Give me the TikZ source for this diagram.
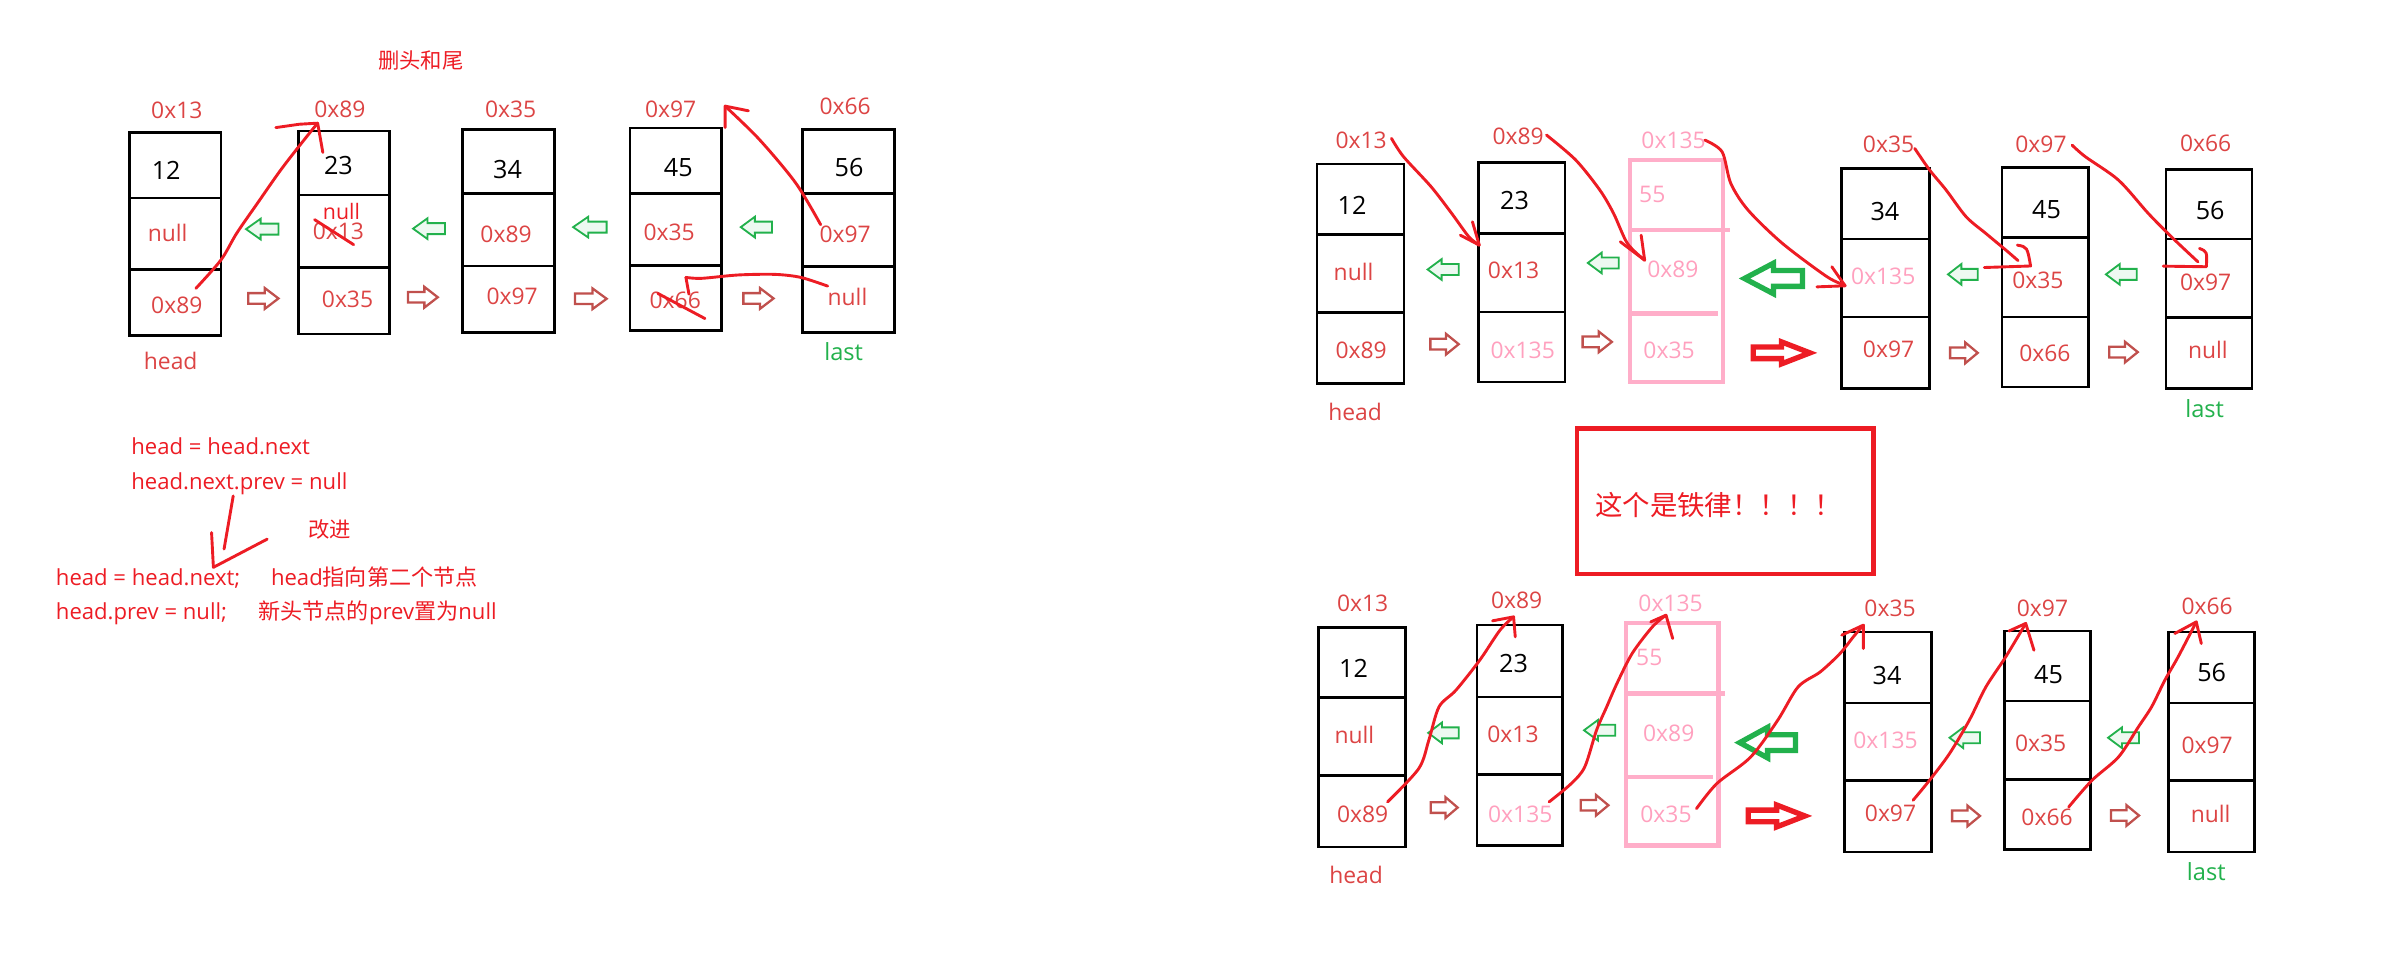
\documentclass[tikz,border=0pt]{standalone}
\usepackage{fontspec}
\setmainfont{Open Sans}
\newfontfamily\cjk{Noto Sans CJK SC}
\definecolor{penred}{RGB}{237,28,36}
\definecolor{ptrred}{RGB}{220,68,68}
\definecolor{grn}{RGB}{34,177,76}
\definecolor{brn}{RGB}{192,80,77}
\definecolor{pnk}{RGB}{255,174,201}
\definecolor{pnktxt}{RGB}{255,160,190}
\newcommand\cellbox[6]{%
  \draw[boxline] (#1,#3) rectangle (#2,#6);
  \draw[boxline] (#1,#4) -- (#2,#4) (#1,#5) -- (#2,#5);}
% tip x, tail x, y, half head, half shaft, head fraction, style
\newcommand\harrow[7]{%
  \draw[#7] (#1,#3) -- ({#1+#6*(#2-#1)},{#3-#4}) -- ({#1+#6*(#2-#1)},{#3-#5}) -- (#2,{#3-#5})
   -- (#2,{#3+#5}) -- ({#1+#6*(#2-#1)},{#3+#5}) -- ({#1+#6*(#2-#1)},{#3+#4}) -- cycle;}
\newcommand\garr[3]{\harrow{#1}{#2}{#3}{6.8}{3.6}{0.45}{grnar}}
\newcommand\barr[3]{\harrow{#1}{#2}{#3}{6.8}{3.5}{0.45}{brnar}}
\begin{document}
\begin{tikzpicture}[x=1pt,y=-1pt,
  boxline/.style={line width=1.7pt,draw=black},
  pinkline/.style={line width=3pt,draw=pnk},
  pen/.style={draw=penred,line width=1.9pt,line cap=round,line join=round},
  ptr/.style={text=ptrred,font=\fontsize{15}{18}\selectfont,inner sep=0pt},
  val/.style={text=black,font=\fontsize{16.5}{19}\selectfont,inner sep=0pt},
  ptxt/.style={text=pnktxt,font=\fontsize{15}{18}\selectfont,inner sep=0pt},
  lasttxt/.style={text=grn,font=\fontsize{15.5}{18}\selectfont,inner sep=0pt},
  note/.style={text=penred,font=\fontsize{14.5}{17}\selectfont,inner sep=0pt,anchor=base west},
  grnar/.style={draw=grn,line width=1.2pt,line join=miter,fill=grn!8},
  brnar/.style={draw=brn,line width=1.5pt,line join=miter},
  biggrn/.style={draw=grn,line width=3.5pt,line join=miter},
  bigred/.style={draw=penred,line width=3.5pt,line join=miter}]
\useasboundingbox (0,0) rectangle (1568,638);

%================ top-left =================
\node[text=penred,font=\fontsize{14}{16}\selectfont\cjk,inner sep=0pt] (title) at (276,40) {删头和尾};
\node[ptr] (tla1) at (116,72.7) {0x13};
\node[ptr] (tla2) at (223,71.6) {0x89};
\node[ptr] (tla3) at (335,71.6) {0x35};
\node[ptr] (tla4) at (440,71.6) {0x97};
\node[ptr] (tla5) at (554.5,70) {0x66};
\cellbox{85}{145}{87}{130}{176.7}{220}
\cellbox{195.7}{255.7}{86}{128}{175.6}{219}
\cellbox{303.3}{363.6}{85}{127}{174.5}{218}
\cellbox{413.3}{473.3}{84}{127}{174.3}{216.7}
\cellbox{526.4}{587}{85}{127}{175}{218}
\node[val] (tv1) at (109,112) {12};
\node[ptr] (tp1) at (110,152.5) {null};
\node[ptr] (tn1) at (116,200) {0x89};
\node[val] (tv2) at (222,108.4) {23};
\node[ptr,text=penred,font=\fontsize{14}{16}\selectfont] (tq2) at (224,138.7) {null};
\node[ptr] (tp2) at (222,152) {0x13};
\node[ptr] (tn2) at (228,196.5) {0x35};
\node[val] (tv3) at (333,111) {34};
\node[ptr] (tp3) at (332,154) {0x89};
\node[ptr] (tn3) at (336,194.7) {0x97};
\node[val] (tv4) at (445,110) {45};
\node[ptr] (tp4) at (439,152.5) {0x35};
\node[ptr] (tn4) at (443,197) {0x66};
\node[val] (tv5) at (557,110) {56};
\node[ptr] (tp5) at (554.5,153.6) {0x97};
\node[ptr] (tn5) at (556,194.7) {null};
\node[ptr] (thead) at (112,236.5) {head};
\node[lasttxt] (tlast) at (553.5,231) {last};
\garr{161.4}{182.7}{150.3}
\garr{271}{292}{150}
\garr{376}{398}{149}
\garr{486}{506.5}{149}
\barr{182.7}{162.8}{195.8}
\barr{287.2}{267.7}{195}
\barr{398}{377.3}{196}
\barr{507.5}{487.7}{195.8}
% strokes
\draw[pen] plot[smooth,tension=0.5] coordinates {(128.5,189.2) (145,170.5) (155.3,153) (169,133.2) (184.4,111.2) (199.8,91.4) (208.4,80.8)};
\draw[pen] (181,83.7) -- (196.4,81.5) -- (208.4,80.8) -- (211.8,100);
\draw[pen] plot[smooth,tension=0.5] coordinates {(538.4,147.4) (522,120) (498,91.3) (475.7,69.6)};
\draw[pen] (491,72.7) -- (475.7,69.6) -- (475.7,83.7);
\draw[pen] plot[smooth,tension=0.5] coordinates {(543,187.7) (525.4,182) (508.3,180) (484.2,180.4) (460.3,182.6) (450,182)};
\draw[pen] (450,182) -- (452,193);
\draw[pen] (431.6,192.5) -- (462.5,209);
\draw[pen] (206.4,144.1) -- (232,160.5);

%================ bottom-left notes =================
\node[note] (n1) at (86,298.3) {head = head.next};
\node[note] (n2) at (86,321.1) {head.next.prev = null};
\node[note,font=\fontsize{14}{16}\selectfont\cjk] (n3) at (202,352.5) {改进};
\node[note] (n4) at (36.5,384.1) {head = head.next;};
\node[note] (n5) at (177.6,384.1) {head{\cjk 指向第二个节点}};
\node[note] (n6) at (36.5,406.3) {head.prev = null;};
\node[note] (n7) at (169.4,406.3) {{\cjk 新头节点的}prev{\cjk 置为}null};
\draw[pen] (153,325.4) -- (147,360.2);
\draw[pen] (138.8,349.4) -- (140,372.2) -- (175.3,353.7);

%================ top-right =================
\node[ptr] (ra1) at (893,92) {0x13};
\node[ptr] (ra2) at (996,89.7) {0x89};
\node[ptxt] (ra3) at (1098,92) {0x135};
\node[ptr] (ra4) at (1239,95) {0x35};
\node[ptr] (ra5) at (1339,95) {0x97};
\node[ptr] (ra6) at (1447,94) {0x66};
\cellbox{864}{921}{107.7}{153.8}{205}{251.6}
\cellbox{970}{1026.6}{106.6}{153.2}{204.6}{250.5}
\draw[pinkline] (1069.5,105) rectangle (1130.5,250.5);
\draw[pinkline] (1069.5,151) -- (1135,151) (1069.5,205.7) -- (1127,205.7);
\cellbox{1208.3}{1266}{110.5}{156.9}{207.9}{254.9}
\cellbox{1313.3}{1370}{109.8}{156}{207.9}{253.8}
\cellbox{1421}{1477.5}{111.2}{156.9}{208.3}{254.9}
\node[val] (rv1) at (887,134.6) {12};
\node[ptr] (rp1) at (888,178.3) {null};
\node[ptr] (rn1) at (893,230) {0x89};
\node[val] (rv2) at (993.6,131.7) {23};
\node[ptr] (rp2) at (993,177.2) {0x13};
\node[ptxt] (rn2) at (999,230) {0x135};
\node[ptxt] (rv3) at (1084,127.3) {55};
\node[ptxt] (rp3) at (1097.5,177) {0x89};
\node[ptxt] (rn3) at (1095,230) {0x35};
\node[val] (rv4) at (1236.6,139) {34};
\node[ptxt] (rp4) at (1235.5,181.6) {0x135};
\node[ptr] (rn4) at (1239,229.3) {0x97};
\node[val] (rv5) at (1342.7,137.8) {45};
\node[ptr] (rp5) at (1337,183.8) {0x35};
\node[ptr] (rn5) at (1341.6,232) {0x66};
\node[val] (rv6) at (1450,137.8) {56};
\node[ptr] (rp6) at (1447,185) {0x97};
\node[ptr] (rn6) at (1448.5,229.3) {null};
\node[ptr] (rhead) at (889,270) {head};
\node[lasttxt] (rlast) at (1446.4,268) {last};
\garr{936.6}{957}{176.8}
\garr{1041.7}{1062}{172.5}
\garr{1278}{1297.5}{180}
\garr{1381.6}{1401.8}{180}
\barr{957}{938.4}{225.8}
\barr{1057.5}{1038.3}{224.3}
\barr{1297.5}{1279.4}{231.5}
\barr{1402.5}{1383.8}{231}
\harrow{1144.5}{1182.5}{182.7}{10}{5.2}{0.5}{biggrn}
\harrow{1187.4}{1150.2}{231.5}{7.2}{3.8}{0.5}{bigred}
% strokes
\draw[pen] plot[smooth,tension=0.5] coordinates {(912.9,90.8) (920.8,102.8) (938.9,122.5) (952.4,140) (963.7,155.4) (970.5,160.8)};
\draw[pen] (958.1,154.3) -- (970.5,160.8) -- (966,145.5);
\draw[pen] plot[smooth,tension=0.5] coordinates {(1014.6,88.6) (1033.8,105) (1049.6,124.7) (1058.6,140) (1067.7,159.7) (1079,170.7)};
\draw[pen] (1063,158.6) -- (1079,170.7) -- (1076.7,154.3);
\draw[pen] plot[smooth,tension=0.5] coordinates {(1118.5,91.9) (1129.8,99.6) (1135.5,120.3) (1146.8,137.8) (1169.4,159.7) (1198.7,181.6) (1210.5,187.1)};
\draw[pen] (1192,188.2) -- (1210.5,187.5) -- (1201.8,175);
\draw[pen] plot[smooth,tension=0.5] coordinates {(1256.2,97.4) (1266,111.6) (1276.8,124.7) (1289.9,142.2) (1302.9,153.2) (1316,164.1) (1324,171)};
\draw[pen] (1323.5,160.8) .. controls (1330,162) .. (1332.2,174.5) -- (1301.8,175.5);
\draw[pen] plot[smooth,tension=0.5] coordinates {(1359.4,95.2) (1368.1,102.8) (1389.9,118.2) (1409.4,140) (1424.6,155.4) (1442,171.8)};
\draw[pen] (1443,163) .. controls (1448,165) .. (1447.5,175) -- (1419.2,174.6);

%================ rule box =================
\draw[draw=penred,line width=3pt] (1034.5,281.1) rectangle (1229.3,376.7);
\node[text=penred,font=\fontsize{18}{20}\selectfont\cjk,inner sep=0pt] (rule) at (1127.5,331.4) {这个是铁律！！！！};

%================ bottom-right =================
\node[ptr] (qa1) at (894,396) {0x13};
\node[ptr] (qa2) at (995,394) {0x89};
\node[ptxt] (qa3) at (1096,396) {0x135};
\node[ptr] (qa4) at (1240,399) {0x35};
\node[ptr] (qa5) at (1340,399) {0x97};
\node[ptr] (qa6) at (1448,398) {0x66};
\cellbox{865.2}{921.9}{411.7}{457.6}{508.6}{555.7}
\cellbox{969}{1025.2}{410.1}{457.2}{508}{554.6}
\draw[pinkline] (1066.8,408.6) rectangle (1127.4,554.6);
\draw[pinkline] (1066.8,455) -- (1131.4,455) (1066.8,509.7) -- (1124,509.7);
\cellbox{1210}{1267}{414.5}{461.1}{511.9}{558.9}
\cellbox{1315}{1371.4}{413.9}{459.8}{511.5}{557.4}
\cellbox{1422.5}{1479}{414.5}{461.1}{511.9}{558.9}
\node[val] (qv1) at (888,438.6) {12};
\node[ptr] (qp1) at (888.6,482.4) {null};
\node[ptr] (qn1) at (894,534.2) {0x89};
\node[val] (qv2) at (993,435.3) {23};
\node[ptr] (qp2) at (992.6,481.7) {0x13};
\node[ptxt] (qn2) at (997.4,534.2) {0x135};
\node[ptxt] (qv3) at (1082,431.4) {55};
\node[ptxt] (qp3) at (1094.8,481.3) {0x89};
\node[ptxt] (qn3) at (1093,534.2) {0x35};
\node[val] (qv4) at (1238,443) {34};
\node[ptxt] (qp4) at (1237,485.6) {0x135};
\node[ptr] (qn4) at (1240.3,533.3) {0x97};
\node[val] (qv5) at (1344,442.3) {45};
\node[ptr] (qp5) at (1338.8,487.8) {0x35};
\node[ptr] (qn5) at (1343,536) {0x66};
\node[val] (qv6) at (1451,441.4) {56};
\node[ptr] (qp6) at (1448,489) {0x97};
\node[ptr] (qn6) at (1450.3,533.8) {null};
\node[ptr] (qhead) at (889.7,574.3) {head};
\node[lasttxt] (qlast) at (1447.5,572) {last};
\garr{937}{957}{480.8}
\garr{1039.2}{1059.7}{479.1}
\garr{1279}{1299}{484}
\garr{1383}{1403.3}{484}
\barr{956.3}{938.6}{529.8}
\barr{1055.2}{1037}{528.3}
\barr{1299}{1280.7}{535.3}
\barr{1403.3}{1385}{535}
\harrow{1141.4}{1177.9}{487.2}{10}{5.2}{0.5}{biggrn}
\harrow{1184.1}{1147}{535.3}{7.2}{3.8}{0.5}{bigred}
% strokes
\draw[pen] plot[smooth,tension=0.5] coordinates {(910.3,526.1) (930.8,504.2) (937.4,485.6) (944.1,463.7) (955.2,452.8) (970.8,433.1) (984.1,413.4) (993,404.7)};
\draw[pen] (979.2,407.3) -- (993,404.7) -- (994.1,417.8);
\draw[pen] plot[smooth,tension=0.5] coordinates {(1016.3,526.1) (1030.8,514.1) (1039.7,503.1) (1047.4,479.1) (1054.1,463.7) (1060.8,448.4) (1070.8,428.7) (1084.1,411.2) (1093,403.6)};
\draw[pen] (1083,408) -- (1093,403.6) -- (1097.4,418.9);
\draw[pen] plot[smooth,tension=0.5] coordinates {(1113,530.5) (1126.3,514.1) (1148.6,496.6) (1166.3,472.5) (1179.7,450.6) (1194.2,440.8) (1207.2,428.7) (1215.9,417.8) (1222.5,410.1)};
\draw[pen] (1208.3,416.7) -- (1222.5,410.1) -- (1222.5,425.5);
\draw[pen] plot[smooth,tension=0.5] coordinates {(1255.1,525) (1265.9,511.9) (1279,494.4) (1292,472.5) (1302.9,450.6) (1315.9,430.9) (1329,409)};
\draw[pen] (1318,414) -- (1329,409) -- (1334.4,426.6);
\draw[pen] plot[smooth,tension=0.5] coordinates {(1357.2,529.4) (1372.5,511.9) (1389.9,496.6) (1402.9,476.9) (1411.6,463.7) (1420.3,446.2) (1429,430.9) (1440.9,408)};
\draw[pen] (1426.8,415.6) -- (1440.9,408) -- (1444.2,422.2);
\end{tikzpicture}
\end{document}
